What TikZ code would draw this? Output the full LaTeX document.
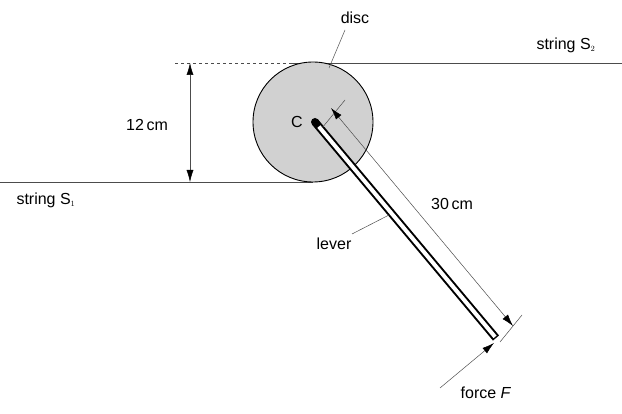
\documentclass[tikz,border=0pt]{standalone}
\usepackage{fontspec}
\setmainfont{Liberation Sans}
\usetikzlibrary{arrows.meta,calc}
\begin{document}
\begin{tikzpicture}[x=1pt,y=-1pt,
  thin line/.style={draw=black!70,line width=0.5pt},
  lbl/.style={font=\fontsize{16}{18}\selectfont,inner sep=1pt},
  arr/.style={-{Latex[length=12pt,width=7pt,color=black]}}]
\useasboundingbox (0,0) rectangle (622,414);
% strings
\coordinate (s2l) at (175,63); \coordinate (s2m) at (292,63); \coordinate (s2r) at (622,63);
\coordinate (s1l) at (0,182); \coordinate (s1r) at (313,182);
\draw[thin line,dashed] (s2l) -- (s2m);
\draw[thin line] (s2m) -- (s2r);
\draw[thin line] (s1l) -- (s1r);
% disc
\node[circle,draw,fill=black!18,line width=0.9pt,minimum size=120pt,inner sep=0] (disc) at (313,122) {};
% lever
\coordinate (C) at (315,122);
\coordinate (E) at (496,338);
\draw[line width=8pt,line cap=butt] (C) -- (E);
\draw[white,line width=4pt,line cap=butt] ($(C)!6pt!(E)$) -- ($(E)!1.5pt!(C)$);
\fill (C) circle (4pt);
\node[lbl] (Cl) at (297,122) {C};
% 30 cm dimension
\coordinate (d1) at (331,108); \coordinate (d2) at (513,326);
\draw[thin line] (322,128) -- (345,100);
\draw[thin line] (500,342) -- (522,315);
\draw[thin line,arr] ($(d1)!0.5!(d2)$) -- (d1);
\draw[thin line,arr] ($(d1)!0.5!(d2)$) -- (d2);
\node[lbl,fill=white] (l30) at (452,204) {30\,cm};
% 12 cm
\coordinate (t1) at (190,63); \coordinate (t2) at (190,182);
\draw[thin line,arr] (190,122) -- (t1);
\draw[thin line,arr] (190,122) -- (t2);
\node[lbl] (l12) at (147,125) {12\,cm};
% force
\coordinate (f0) at (440,388);
\draw[thin line,arr] (f0) -- (494,343);
\node[lbl] (fl) at (486,393) {force \textit{F}};
% labels
\node[lbl] (disclbl) at (355,18) {disc};
\draw[thin line] (345,30) -- (329,68);
\node[lbl] (lever) at (334,244) {lever};
\draw[thin line] (352,234) -- (389,215);
\node[lbl] (s2) at (566,45) {string S$_{\scriptscriptstyle 2}$};
\node[lbl] (s1) at (46,200) {string S$_{\scriptscriptstyle 1}$};
\end{tikzpicture}
\end{document}
